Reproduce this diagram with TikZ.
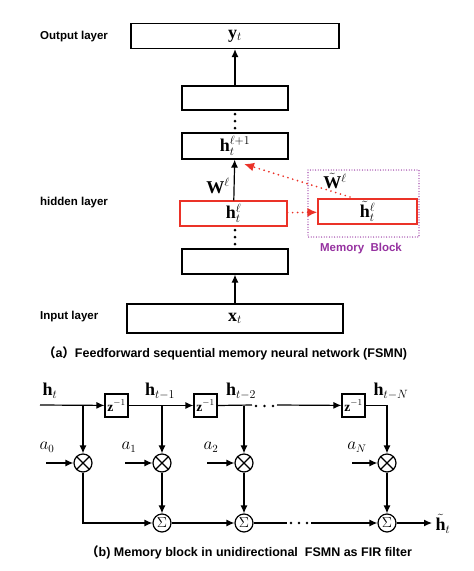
\documentclass[tikz,border=0pt]{standalone}
\usepackage{fontspec}
\setmainfont{Liberation Serif}
\setsansfont{Liberation Sans}
\newfontfamily\cjk{Noto Sans CJK SC}
\usetikzlibrary{arrows.meta}

\definecolor{fsmnred}{RGB}{235,50,40}
\definecolor{mempurple}{RGB}{150,50,160}

\tikzset{
	mathlbl/.style={font=\fontsize{18}{20}\selectfont, inner sep=1pt},
	coef/.style={font=\fontsize{16}{18}\selectfont, inner sep=1pt},
	layer/.style={draw, line width=1.2pt, inner sep=0pt, minimum height=25, font=\fontsize{18}{20}\selectfont},
	hidlayer/.style={layer, draw=fsmnred},
	arr/.style={line width=1.2pt, -{Latex[length=8pt,width=7pt]}},
	redarr/.style={fsmnred, line width=1.9pt, line cap=round, dash pattern=on 0pt off 5pt, -{Latex[length=10pt,width=9pt]}},
	lbl/.style={font=\sffamily\bfseries\fontsize{11.5}{14}\selectfont, anchor=west, inner sep=0pt},
	delay/.style={draw, line width=1.2pt, minimum size=23, inner sep=0pt, font=\fontsize{13.5}{15}\selectfont},
	mult/.style={draw, circle, line width=1.2pt, minimum size=18, inner sep=0pt},
	summ/.style={mult, font=\fontsize{14}{16}\selectfont},
}

\begin{document}
\begin{tikzpicture}[x=1pt, y=-1pt]
		\useasboundingbox (0,0) rectangle (474,571);
		
		% (a) FSMN
		\node[layer, minimum width=208] (out) at (235,36) {$\mathbf{y}_t$};
		\node[layer, minimum width=106, minimum height=24] (top) at (235,98) {};
		\node[layer, minimum width=106, minimum height=26] (hup) at (235,146) {$\mathbf{h}_t^{\ell+1}$};
		\node[hidlayer, minimum width=107] (hl) at (233.5,213.5) {$\mathbf{h}_t^{\ell}$};
		\node[layer, minimum width=106] (bot) at (235,261.5) {};
		\node[layer, minimum width=216, minimum height=29] (in) at (235,318.5) {$\mathbf{x}_t$};
		\node[hidlayer, minimum width=99] (ht) at (367.5,211.5) {$\tilde{\mathbf{h}}_t^{\ell}$};
		\draw[mempurple, line width=1.3pt, line cap=round, dash pattern=on 0pt off 2.6pt] (308,170) rectangle (419,237);
		
		\node[lbl] (outlbl) at (40,37) {Output layer};
		\node[lbl] (hidlbl) at (40,203) {hidden layer};
		\node[lbl] (inlbl) at (40,317) {Input layer};
		\node[font=\sffamily\bfseries\fontsize{11.5}{14}\selectfont, text=mempurple, inner sep=0pt] (memlbl) at (361,249) {Memory\ \ Block};
		
		\draw[arr] (top) -- (out);
		\draw[arr] (hl) -- (hup);
		\draw[arr] (in) -- (bot);
		\foreach \y in {114,121,128} \fill (235,\y) circle (1.5);
		\foreach \y in {230,237,244} \fill (235,\y) circle (1.5);
		\node[mathlbl] (W) at (218,186) {$\mathbf{W}^{\ell}$};
		\node[mathlbl] (Wt) at (335,181) {$\tilde{\mathbf{W}}^{\ell}$};
		
		\coordinate (tapped) at (350,197);
		\coordinate (wend) at (244,164);
		\draw[redarr] (hl) -- (ht);
		\draw[redarr] (tapped) -- (wend);
		
		\node[font=\sffamily\bfseries\fontsize{12.5}{15}\selectfont] (capa) at (225,353) {{\cjk （}a{\cjk ）}Feedforward sequential memory neural network (FSMN)};
		
		% (b) memory block as FIR filter
		\coordinate (hin) at (40,405);
		\node[delay] (z1) at (116.5,405.5) {$\mathbf{z}^{-1}$};
		\node[delay] (z2) at (205.5,405.5) {$\mathbf{z}^{-1}$};
		\node[delay] (z3) at (353.5,405.5) {$\mathbf{z}^{-1}$};
		\node[mult] (m0) at (83,463) {};
		\node[mult] (m1) at (162,463) {};
		\node[mult] (m2) at (244,463) {};
		\node[mult] (m3) at (387,463) {};
		\foreach \m in {m0,m1,m2,m3}{
			\draw[line width=1.2pt] (\m.north west) -- (\m.south east) (\m.north east) -- (\m.south west);
		}
		\node[summ] (s1) at (162,523) {$\Sigma$};
		\node[summ] (s2) at (244,523) {$\Sigma$};
		\node[summ] (s3) at (387,523) {$\Sigma$};
		
		\node[mathlbl] (h0) at (50,391) {$\mathbf{h}_t$};
		\node[mathlbl] (h1) at (160,391) {$\mathbf{h}_{t-1}$};
		\node[mathlbl] (h2) at (241,391) {$\mathbf{h}_{t-2}$};
		\node[mathlbl] (hN) at (391,391) {$\mathbf{h}_{t-N}$};
		\node[mathlbl] (hout) at (443,524) {$\tilde{\mathbf{h}}_t$};
		
		\node[coef] (la0) at (47,447) {$a_0$};
		\node[coef] (la1) at (129,447) {$a_1$};
		\node[coef] (la2) at (211,447) {$a_2$};
		\node[coef] (laN) at (357,447) {$a_N$};
		\coordinate (c0) at (46,463);
		\coordinate (c1) at (125,463);
		\coordinate (c2) at (207,463);
		\coordinate (cN) at (352,463);
		
		\coordinate (d1) at (252,405);
		\coordinate (d2) at (277,405);
		\coordinate (d3) at (287,523);
		\coordinate (d4) at (311,523);
		\coordinate (hend) at (432,523);
		
		\draw[arr] (hin) -- (z1);
		\draw[arr] (z1) -- (z2);
		\draw[line width=1.2pt] (z2.east) -- (d1);
		\foreach \x in {256,264.5,273} \fill (\x,406) circle (1.3);
		\draw[arr] (d2) -- (z3);
		\draw[arr] (z3.east) -| (m3);
		\draw[arr] (m0 |- hin) -- (m0);
		\draw[arr] (m1 |- z1) -- (m1);
		\draw[arr] (m2 |- z2) -- (m2);
		\draw[arr] (c0) -- (m0);
		\draw[arr] (c1) -- (m1);
		\draw[arr] (c2) -- (m2);
		\draw[arr] (cN) -- (m3);
		\draw[arr] (m0) |- (s1);
		\draw[arr] (m1) -- (s1);
		\draw[arr] (m2) -- (s2);
		\draw[arr] (m3) -- (s3);
		\draw[arr] (s1) -- (s2);
		\draw[line width=1.2pt] (s2) -- (d3);
		\foreach \x in {291,299,307} \fill (\x,523) circle (1.3);
		\draw[arr] (d4) -- (s3);
		\draw[arr] (s3) -- (hend);
		
		\node[font=\sffamily\bfseries\fontsize{12.5}{15}\selectfont] (capb) at (249,552) {{\cjk （}b) Memory block in unidirectional\ \ FSMN as FIR filter};
	\end{tikzpicture}
\end{document}
